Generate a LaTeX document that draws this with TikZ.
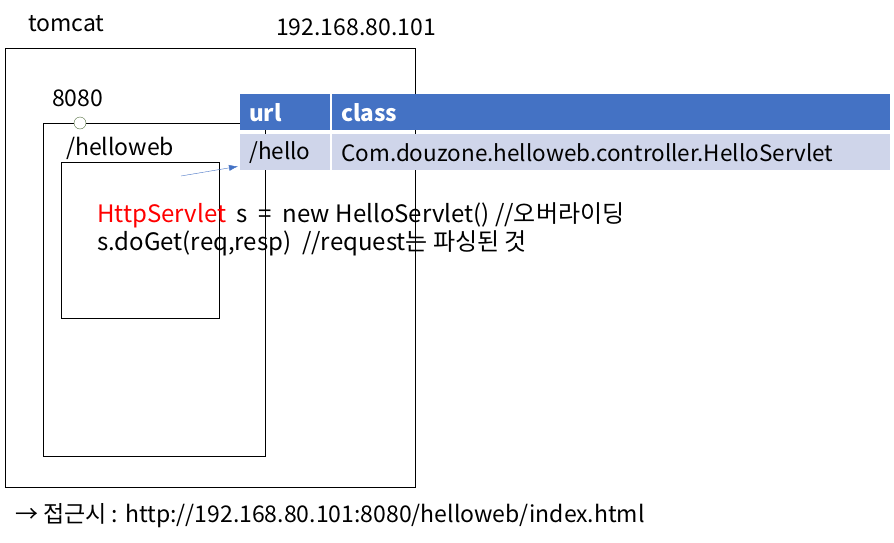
\documentclass[tikz,border=0pt]{standalone}
\usepackage{fontspec}
\setmainfont{Noto Sans CJK KR}
\usepackage{tikz}
\usetikzlibrary{arrows.meta}

\definecolor{headblue}{HTML}{4472C4}
\definecolor{rowblue}{HTML}{CFD5EA}
\definecolor{portgreen}{HTML}{4E6B3A}

\tikzset{
  lbl/.style={inner sep=0pt, font=\fontsize{23}{27}\selectfont},
  codeline/.style={inner sep=0pt, font=\fontsize{24}{28}\selectfont},
  cell/.style={anchor=north west, minimum height=36pt, inner xsep=9pt, inner ysep=0pt,
    align=left, font=\fontsize{22.5}{26}\selectfont},
}

\begin{document}
\begin{tikzpicture}[x=1pt, y=-1pt]
        \useasboundingbox (0,0) rectangle (894,543);

        % server boxes
        \node[draw, anchor=north west, minimum width=410pt, minimum height=439pt, inner sep=0pt] (tomcatbox) at (5,48) {};
        \node[draw, anchor=north west, minimum width=222pt, minimum height=333pt, inner sep=0pt] (portbox) at (43,123) {};
        \node[draw, anchor=north west, minimum width=158pt, minimum height=156pt, inner sep=0pt] (appbox) at (61,162) {};
        \node[draw=portgreen, fill=white, circle, minimum size=12pt, inner sep=0pt] (port) at (80,123) {};

        \node[lbl, anchor=west] (tomcat) at (28,24) {tomcat};
        \node[lbl, anchor=west] (ip) at (276,27) {192.168.80.101};
        \node[lbl, anchor=west] (portno) at (52,98) {8080};
        \node[lbl, anchor=west] (ctx) at (66,148) {/helloweb};

        % mapping table
        \node[cell, fill=headblue, text=white, text width=72pt, font=\fontsize{22.5}{26}\selectfont\bfseries] (urlh) at (240,94) {url};
        \node[cell, fill=headblue, text=white, text width=540pt, font=\fontsize{22.5}{26}\selectfont\bfseries] (classh) at (332,94) {class};
        \node[cell, fill=rowblue, text width=72pt] (urlc) at (240,134) {/hello};
        \node[cell, fill=rowblue, text width=540pt] (classc) at (332,134) {Com.douzone.helloweb.controller.HelloServlet};

        \coordinate (req) at (181,176);
        \draw[headblue, -{Latex[length=9pt, width=6pt]}] (req) -- ([xshift=-2pt, yshift=4pt]urlc.south west);

        % servlet code
        \node[codeline, anchor=west] (code1) at (97,215) {\textcolor{red}{HttpServlet}\ \ s\ \ =\ \ new HelloServlet() //오버라이딩};
        \node[codeline, anchor=west] (code2) at (97,243) {s.doGet(req,resp)\ \ //request는 파싱된 것};

        \node[lbl, anchor=west] (access) at (15,516) {→ 접근시 : http://192.168.80.101:8080/helloweb/index.html};
\end{tikzpicture}
\end{document}
